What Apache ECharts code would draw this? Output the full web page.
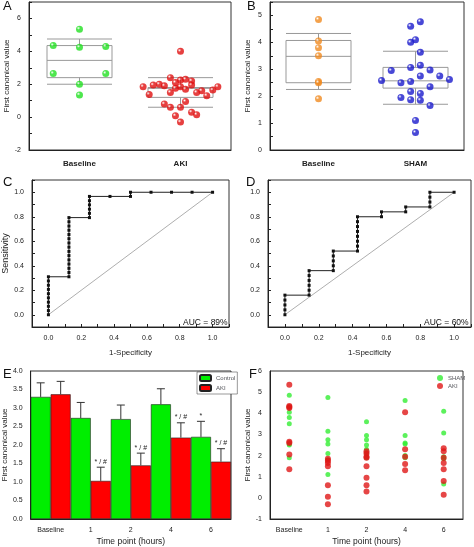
<!DOCTYPE html><html><head><meta charset="utf-8"><script src="https://cdn.jsdelivr.net/npm/echarts@6/dist/echarts.min.js"></script>
<style>body{margin:0;background:#fff}#c{width:474px;height:547px}</style></head><body><div id="c"></div><script>
// Panel A
const aBaseX=[-0.26,0,0,0,0,0.26,-0.26,0.26];
const aBaseY=[4.35,5.35,4.25,2.0,1.35,4.3,2.65,2.65];
const aAkiX=[-0.37,-0.31,-0.27,-0.21,-0.16,-0.16,-0.1,-0.1,-0.1,-0.05,-0.05,-0.05,0,0,0,0,0,0.05,0.05,0.05,0.11,0.11,0.11,0.16,0.16,0.21,0.26,0.32,0.37];
const aAkiY=[1.85,1.38,1.95,2.0,1.9,0.8,2.4,1.5,0.6,2.1,1.75,0.08,4.0,2.25,1.85,0.6,-0.3,2.3,1.7,0.95,2.2,1.95,0.3,1.5,0.15,1.6,1.3,1.65,1.85];
const aBoxes=[[2.0,2.4,3.45,4.35,4.75],[0.6,1.2,1.75,1.8,2.4]];
// Panel B
const bBaseY=[4.85,4.05,3.8,3.5,2.55,2.5,1.9];
const bShamX=[-0.35,-0.25,-0.15,-0.15,-0.05,-0.05,-0.05,-0.05,-0.05,-0.05,0,0,0,0.05,0.05,0.05,0.05,0.05,0.05,0.15,0.15,0.15,0.25,0.35];
const bShamY=[2.58,2.95,2.5,1.95,4.6,4.0,3.07,2.55,2.17,1.87,4.1,1.1,0.65,4.77,3.63,3.15,2.75,2.1,1.85,2.97,2.35,1.65,2.75,2.62];
const bBoxes=[[2.25,2.5,3.48,4.07,4.33],[1.7,2.3,2.57,3.07,3.67]];
// Panel C ROC
const cFpr=[0,0,0,0,0,0,0,0,0,0,0.125,0.125,0.125,0.125,0.125,0.125,0.125,0.125,0.125,0.125,0.125,0.125,0.125,0.125,0.125,0.25,0.25,0.25,0.25,0.25,0.25,0.375,0.5,0.5,0.625,0.75,0.875,1];
const cTpr=[0,0.034,0.069,0.103,0.138,0.172,0.207,0.241,0.276,0.31,0.31,0.345,0.379,0.414,0.448,0.483,0.517,0.552,0.586,0.621,0.655,0.69,0.724,0.759,0.793,0.793,0.828,0.862,0.897,0.931,0.966,0.966,0.966,1,1,1,1,1];
// Panel D ROC
const dFpr=[0,0,0,0,0,0.143,0.143,0.143,0.143,0.143,0.143,0.286,0.286,0.286,0.286,0.286,0.429,0.429,0.429,0.429,0.429,0.429,0.429,0.429,0.571,0.571,0.714,0.714,0.857,0.857,0.857,0.857,1];
const dTpr=[0,0.04,0.08,0.12,0.16,0.16,0.2,0.24,0.28,0.32,0.36,0.36,0.4,0.44,0.48,0.52,0.52,0.56,0.6,0.64,0.68,0.72,0.76,0.8,0.8,0.84,0.84,0.88,0.88,0.92,0.96,1,1];
// Panel E
const eCats=['Baseline','1','2','4','6'];
const eCtrl=[3.3,2.73,2.7,3.1,2.22];
const eCtrlErr=[0.38,0.42,0.38,0.42,0.42];
const eCtrlMark=['','','','','*'];
const eAki=[3.37,1.03,1.45,2.2,1.55];
const eAkiErr=[0.35,0.37,0.33,0.4,0.35];
const eAkiMark=['','* / #','* / #','* / #','* / #'];
// Panel F
const fShamX=[0,0,0,0,0,0,0,0,1,1,1,1,1,1,1,2,2,2,2,2,2,2,3,3,3,3,3,3,4,4,4,4,4];
const fShamY=[4.85,4.3,4.05,3.8,3.5,2.55,2.5,1.9,4.75,3.15,2.75,2.55,2.1,1.8,1.1,3.6,2.95,2.75,2.5,2.3,2.1,1.9,4.6,2.95,2.6,2.55,2.0,1.9,4.1,3.07,1.95,1.85,0.65];
const fAkiX=[0,0,0,0,0,0,0,0,1,1,1,1,1,1,1,2,2,2,2,2,2,2,2,3,3,3,3,3,4,4,4,4,4,4,4];
const fAkiY=[5.35,4.35,4.3,4.25,2.65,2.6,2.05,1.35,1.85,1.75,1.65,1.5,0.6,0.05,-0.3,2.2,2.1,1.95,1.9,1.5,0.95,0.6,0.3,4.05,2.3,1.95,1.6,1.3,2.35,2.2,1.9,1.65,1.35,0.8,0.15];

const GREEN='#22e022',RED='#e01010',BLUE='#1a1acc',ORANGE='#f08a20';
const zip=(xs,ys,c)=>xs.map((x,i)=>[c+x,ys[i]]);
const ax={axisLine:{show:true,onZero:false,lineStyle:{color:'#222'}},axisTick:{inside:true,length:3,lineStyle:{color:'#222'}},axisLabel:{fontSize:7,color:'#222'},splitLine:{show:false}};
function yA(gi,min,max,iv,fmt,name,gap){return Object.assign({},ax,{type:'value',gridIndex:gi,min,max,interval:iv,name,nameLocation:'middle',nameGap:gap,nameTextStyle:{fontSize:8,color:'#222'},axisLabel:{fontSize:7,color:'#222',formatter:fmt}});}
const grids=[
 {left:29,top:2,width:202,height:148},
 {left:270,top:2,width:194,height:148},
 {left:30,top:180,width:199,height:147},
 {left:268,top:180,width:203,height:147},
 {left:28,top:371,width:203,height:149},
 {left:270,top:371,width:193,height:148}].map(g=>Object.assign(g,{show:true,borderColor:'#333',borderWidth:1}));
const catA=(gi,cats)=>({type:'category',gridIndex:gi,data:cats,position:'bottom',axisLine:{show:true,onZero:false,lineStyle:{color:'#222'}},axisTick:{show:false},axisLabel:{fontSize:8,fontWeight:'bold',color:'#222',margin:10}});
const hidV=(gi)=>({type:'value',gridIndex:gi,min:0.5,max:2.5,show:false});
const rocFmt=v=>{const r=Math.round(v*10);return (r>=0&&r<=10&&r%2===0)?(r/10).toFixed(1):'';};
const xAxis=[
 catA(0,['Baseline','AKI']),hidV(0),
 catA(1,['Baseline','SHAM']),hidV(1),
 Object.assign({},ax,{type:'value',gridIndex:2,min:-0.1,max:1.1,interval:0.1,axisLabel:{fontSize:7,color:'#222',formatter:rocFmt},name:'1-Specificity',nameLocation:'middle',nameGap:22,nameTextStyle:{fontSize:8,color:'#222'}}),
 Object.assign({},ax,{type:'value',gridIndex:3,min:-0.1,max:1.1,interval:0.1,axisLabel:{fontSize:7,color:'#222',formatter:rocFmt},name:'1-Specificity',nameLocation:'middle',nameGap:22,nameTextStyle:{fontSize:8,color:'#222'}}),
 Object.assign({},ax,{type:'category',gridIndex:4,data:eCats,axisTick:{show:false},name:'Time point (hours)',nameLocation:'middle',nameGap:18,nameTextStyle:{fontSize:8.5,color:'#222'},axisLabel:{fontSize:7,color:'#222',formatter:v=>v}}),
 Object.assign({},ax,{type:'category',gridIndex:5,data:eCats,axisTick:{show:false},name:'Time point (hours)',nameLocation:'middle',nameGap:18,nameTextStyle:{fontSize:8.5,color:'#222'},axisLabel:{fontSize:7,color:'#222',formatter:v=>v}})
];
const yAxis=[
 yA(0,-2,7,1,v=>(v%2===0&&v<7)?v:'','First canonical value',18),
 yA(1,0,5.5,0.5,v=>Number.isInteger(v)?v:'','First canonical value',18),
 yA(2,-0.1,1.1,0.1,rocFmt,'Sensitivity',22),
 yA(3,-0.1,1.1,0.1,rocFmt,'',22),
 yA(4,0,4,0.5,v=>v.toFixed(1),'First canonical value',20),
 yA(5,-1,6,1,v=>v,'First canonical value',16)
];
yAxis[2].nameTextStyle={fontSize:9,color:'#222'};
const ball=(c)=>({color:{type:'radial',x:0.35,y:0.35,r:0.7,colorStops:[{offset:0,color:'#fff'},{offset:0.35,color:c},{offset:1,color:c}]}});
const box=(xi,yi,d)=>({type:'boxplot',xAxisIndex:xi,yAxisIndex:yi,data:d,boxWidth:[65,65],itemStyle:{color:'rgba(0,0,0,0)',borderColor:'#999',borderWidth:1},z:1});
const sc=(xi,yi,d,c)=>({type:'scatter',xAxisIndex:xi,yAxisIndex:yi,data:d,symbolSize:7,itemStyle:ball(c),z:3});
const roc=(xi,yi,xs,ys)=>[{type:'line',xAxisIndex:xi,yAxisIndex:yi,data:xs.map((x,i)=>[x,ys[i]]),symbol:'rect',symbolSize:3,lineStyle:{color:'#222',width:1},itemStyle:{color:'#111'}},
 {type:'line',xAxisIndex:xi,yAxisIndex:yi,data:[[0,0],[1,1]],symbol:'none',lineStyle:{color:'#999',width:0.8}}];
const txt=(t,l,tp,fs)=>({type:'text',left:l,top:tp,style:{text:t,fontSize:fs||13,fill:'#111',fontFamily:'Liberation Sans'}});
const opt={animation:false,textStyle:{fontFamily:'Liberation Sans'},grid:grids,xAxis,yAxis,
 legend:[{data:['Control','AKI'],left:197,top:372,orient:'vertical',itemWidth:11,itemHeight:6,itemGap:2,textStyle:{fontSize:6},backgroundColor:'#fff',borderColor:'#333',borderWidth:0.5,padding:2},
  {data:['SHAM','AKI '],left:436,top:374,orient:'vertical',itemWidth:6,itemHeight:6,itemGap:2,textStyle:{fontSize:6},padding:1}],
 series:[
  box(0,0,aBoxes),sc(1,0,zip(aBaseX,aBaseY,1),GREEN),sc(1,0,zip(aAkiX,aAkiY,2),RED),
  box(2,1,bBoxes),sc(3,1,bBaseY.map(y=>[1,y]),ORANGE),sc(3,1,zip(bShamX,bShamY,2),BLUE),
  ...roc(4,2,cFpr,cTpr),...roc(5,3,dFpr,dTpr),
  {type:'bar',name:'Control',xAxisIndex:6,yAxisIndex:4,data:eCtrl,barWidth:20,barGap:'0%',itemStyle:{color:'#00ee00',borderColor:'#222',borderWidth:0.6}},
  {type:'bar',name:'AKI',xAxisIndex:6,yAxisIndex:4,data:eAki,barWidth:20,barGap:'0%',itemStyle:{color:'#ff0000',borderColor:'#222',borderWidth:0.6}},
  {type:'scatter',name:'SHAM',xAxisIndex:7,yAxisIndex:5,data:fShamX.map((x,i)=>[x,fShamY[i]]),symbolSize:5,itemStyle:{color:'#33ee33'},z:3},
  {type:'scatter',name:'AKI ',xAxisIndex:7,yAxisIndex:5,data:fAkiX.map((x,i)=>[x,fAkiY[i]]),symbolSize:6,itemStyle:{color:'#e01818'},z:4}
 ],
 graphic:[txt('A',3,0),txt('B',247,0),txt('C',3,176),txt('D',246,176),txt('E',3,368),txt('F',249,368),
  txt('AUC = 89%',183,318,8.5),txt('AUC = 60%',424,318,8.5)]};
const chart=echarts.init(document.getElementById('c'));
chart.setOption(opt);
// error bars for panel E through the axis scales
const eb=[];
function addErr(vals,errs,marks,off){vals.forEach((v,i)=>{
 const a=chart.convertToPixel({xAxisIndex:6,yAxisIndex:4},[i,v]);
 const b=chart.convertToPixel({xAxisIndex:6,yAxisIndex:4},[i,v+errs[i]]);
 const x=a[0]+off;
 eb.push({type:'line',shape:{x1:x,y1:a[1],x2:x,y2:b[1]},style:{stroke:'#333',lineWidth:1},z:10});
 eb.push({type:'line',shape:{x1:x-4,y1:b[1],x2:x+4,y2:b[1]},style:{stroke:'#333',lineWidth:1},z:10});
 if(marks[i])eb.push({type:'text',x:x,y:b[1]-2,style:{text:marks[i],fontSize:7,fill:'#222',align:'center',verticalAlign:'bottom'},z:10});
});}
addErr(eCtrl,eCtrlErr,eCtrlMark,-10);addErr(eAki,eAkiErr,eAkiMark,10);
chart.setOption({graphic:opt.graphic.concat(eb)});
</script></body></html>
